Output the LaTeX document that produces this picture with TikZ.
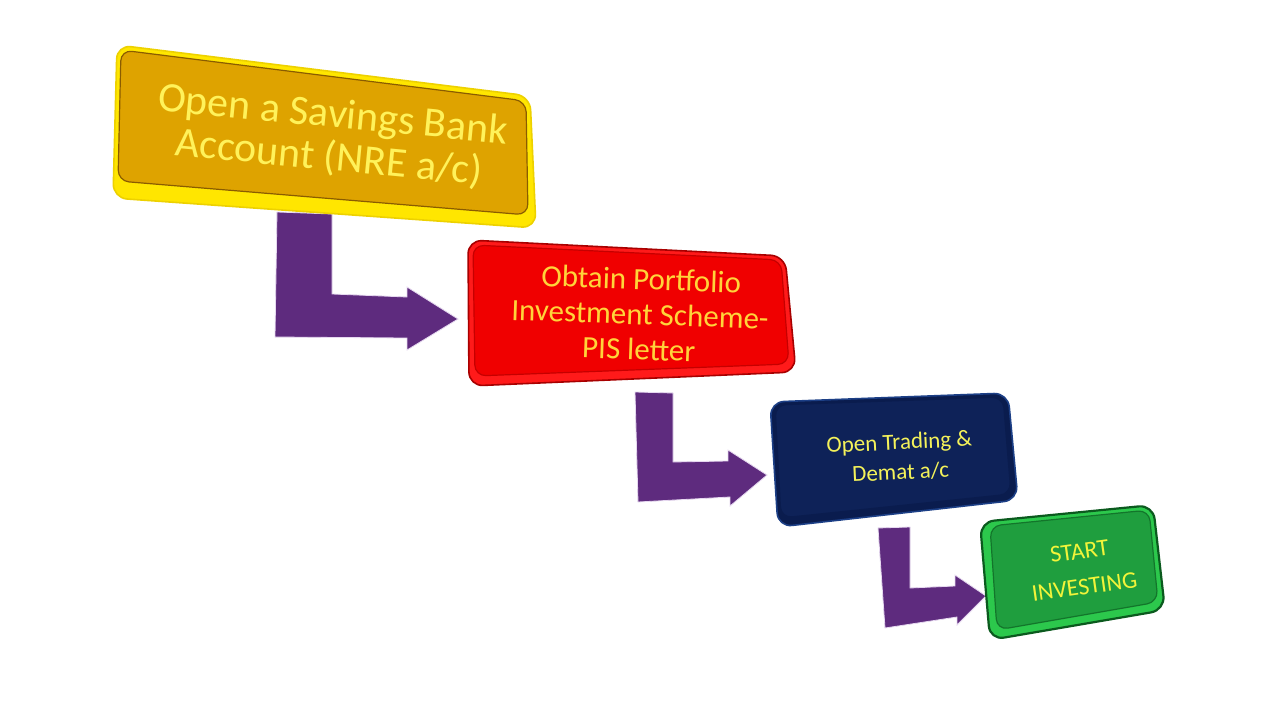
\documentclass[tikz,border=0pt]{standalone}
\usepackage{fontspec}
\setmainfont{Carlito}
\definecolor{arrowpurple}{HTML}{5E2B7E}
\definecolor{arrowedge}{HTML}{E6D8F0}
\definecolor{goldface}{HTML}{DEA300}
\definecolor{goldrim}{HTML}{FFE600}
\definecolor{goldedge}{HTML}{8A5C00}
\definecolor{goldtext}{HTML}{FFF25A}
\definecolor{redface}{HTML}{F00000}
\definecolor{redrim}{HTML}{FF1A1A}
\definecolor{rededge}{HTML}{A80000}
\definecolor{redtext}{HTML}{FFD43A}
\definecolor{navyface}{HTML}{0E2258}
\definecolor{navyrim}{HTML}{0A1C4E}
\definecolor{navyedge}{HTML}{1C3F86}
\definecolor{navytext}{HTML}{F4F25A}
\definecolor{greenface}{HTML}{1F9E3E}
\definecolor{greenrim}{HTML}{2CC84C}
\definecolor{greenedge}{HTML}{0B5A1E}
\definecolor{greentext}{HTML}{F2F43A}
\begin{document}
\begin{tikzpicture}[x=1pt,y=-1pt,
  rimshape/.style={rounded corners=14pt, line width=1.6pt, line join=round},
  faceshape/.style={rounded corners=11pt, line width=1.2pt, line join=round},
  steparrow/.style={fill=arrowpurple, draw=arrowedge, line width=0.8pt, line join=miter},
  boxtext/.style={align=center, inner sep=0pt}
]
\useasboundingbox (0,0) rectangle (1278,720);
\fill[white] (0,0) rectangle (1278,720);

% L-shaped block arrows between the steps
\filldraw[steparrow] (277,212) -- (332,214) -- (332,294) -- (407,297) -- (407,287)
  -- (458,319) -- (407,350) -- (407,338) -- (275,337) -- cycle;
\filldraw[steparrow] (635,392) -- (673,393) -- (673,462) -- (728,461) -- (728,450)
  -- (767,475) -- (730,506) -- (730,497) -- (638,502) -- cycle;
\filldraw[steparrow] (878,528) -- (910,527) -- (910,588) -- (955,586) -- (955,575)
  -- (986,596) -- (957,625) -- (957,617) -- (885,628) -- cycle;

% step 1: savings account
\filldraw[rimshape, fill=goldrim, draw=goldrim!85!goldedge] (117,45) -- (530,96) -- (536,228) -- (113,198) -- cycle;
\filldraw[faceshape, fill=goldface, draw=goldedge] (121,50) -- (526,101) -- (528,215) -- (118,181) -- cycle;
\node[boxtext, rotate=-5.5, text=goldtext, font=\fontsize{42}{43}\selectfont] (s1) at (331,137)
  {Open a Savings Bank\\Account (NRE a/c)};

% step 2: PIS letter
\filldraw[rimshape, fill=redrim, draw=rededge] (468,240) -- (785,256) -- (796,372) -- (469,386) -- cycle;
\filldraw[faceshape, fill=redface, draw=rededge!60!redface] (473,245) -- (781,260) -- (789,364) -- (475,376) -- cycle;
\node[boxtext, rotate=-2, text=redtext, font=\fontsize{31}{35}\selectfont] (s2) at (640,314)
  {Obtain Portfolio\\Investment Scheme-\\PIS letter};

% step 3: trading and demat account
\filldraw[rimshape, fill=navyrim, draw=navyedge] (770,402) -- (1008,393) -- (1018,500) -- (778,527) -- cycle;
\filldraw[faceshape, fill=navyface, draw=navyrim] (775,405) -- (1003,397) -- (1011,494) -- (781,518) -- cycle;
\node[boxtext, rotate=2.6, text=navytext, font=\fontsize{23}{30}\selectfont] (s3) at (900,457)
  {Open Trading \&\\Demat a/c};

% step 4: start investing
\filldraw[rimshape, fill=greenrim, draw=greenedge, line width=2.2pt] (980,522) -- (1153,505) -- (1165,610) -- (990,640) -- cycle;
\filldraw[faceshape, fill=greenface, draw=greenedge!60!greenface] (990,526) -- (1149,510) -- (1158,602) -- (997,630) -- cycle;
\node[boxtext, rotate=8, text=greentext, font=\fontsize{24}{36}\selectfont] (s4) at (1082,569)
  {START\\INVESTING};
\end{tikzpicture}
\end{document}
